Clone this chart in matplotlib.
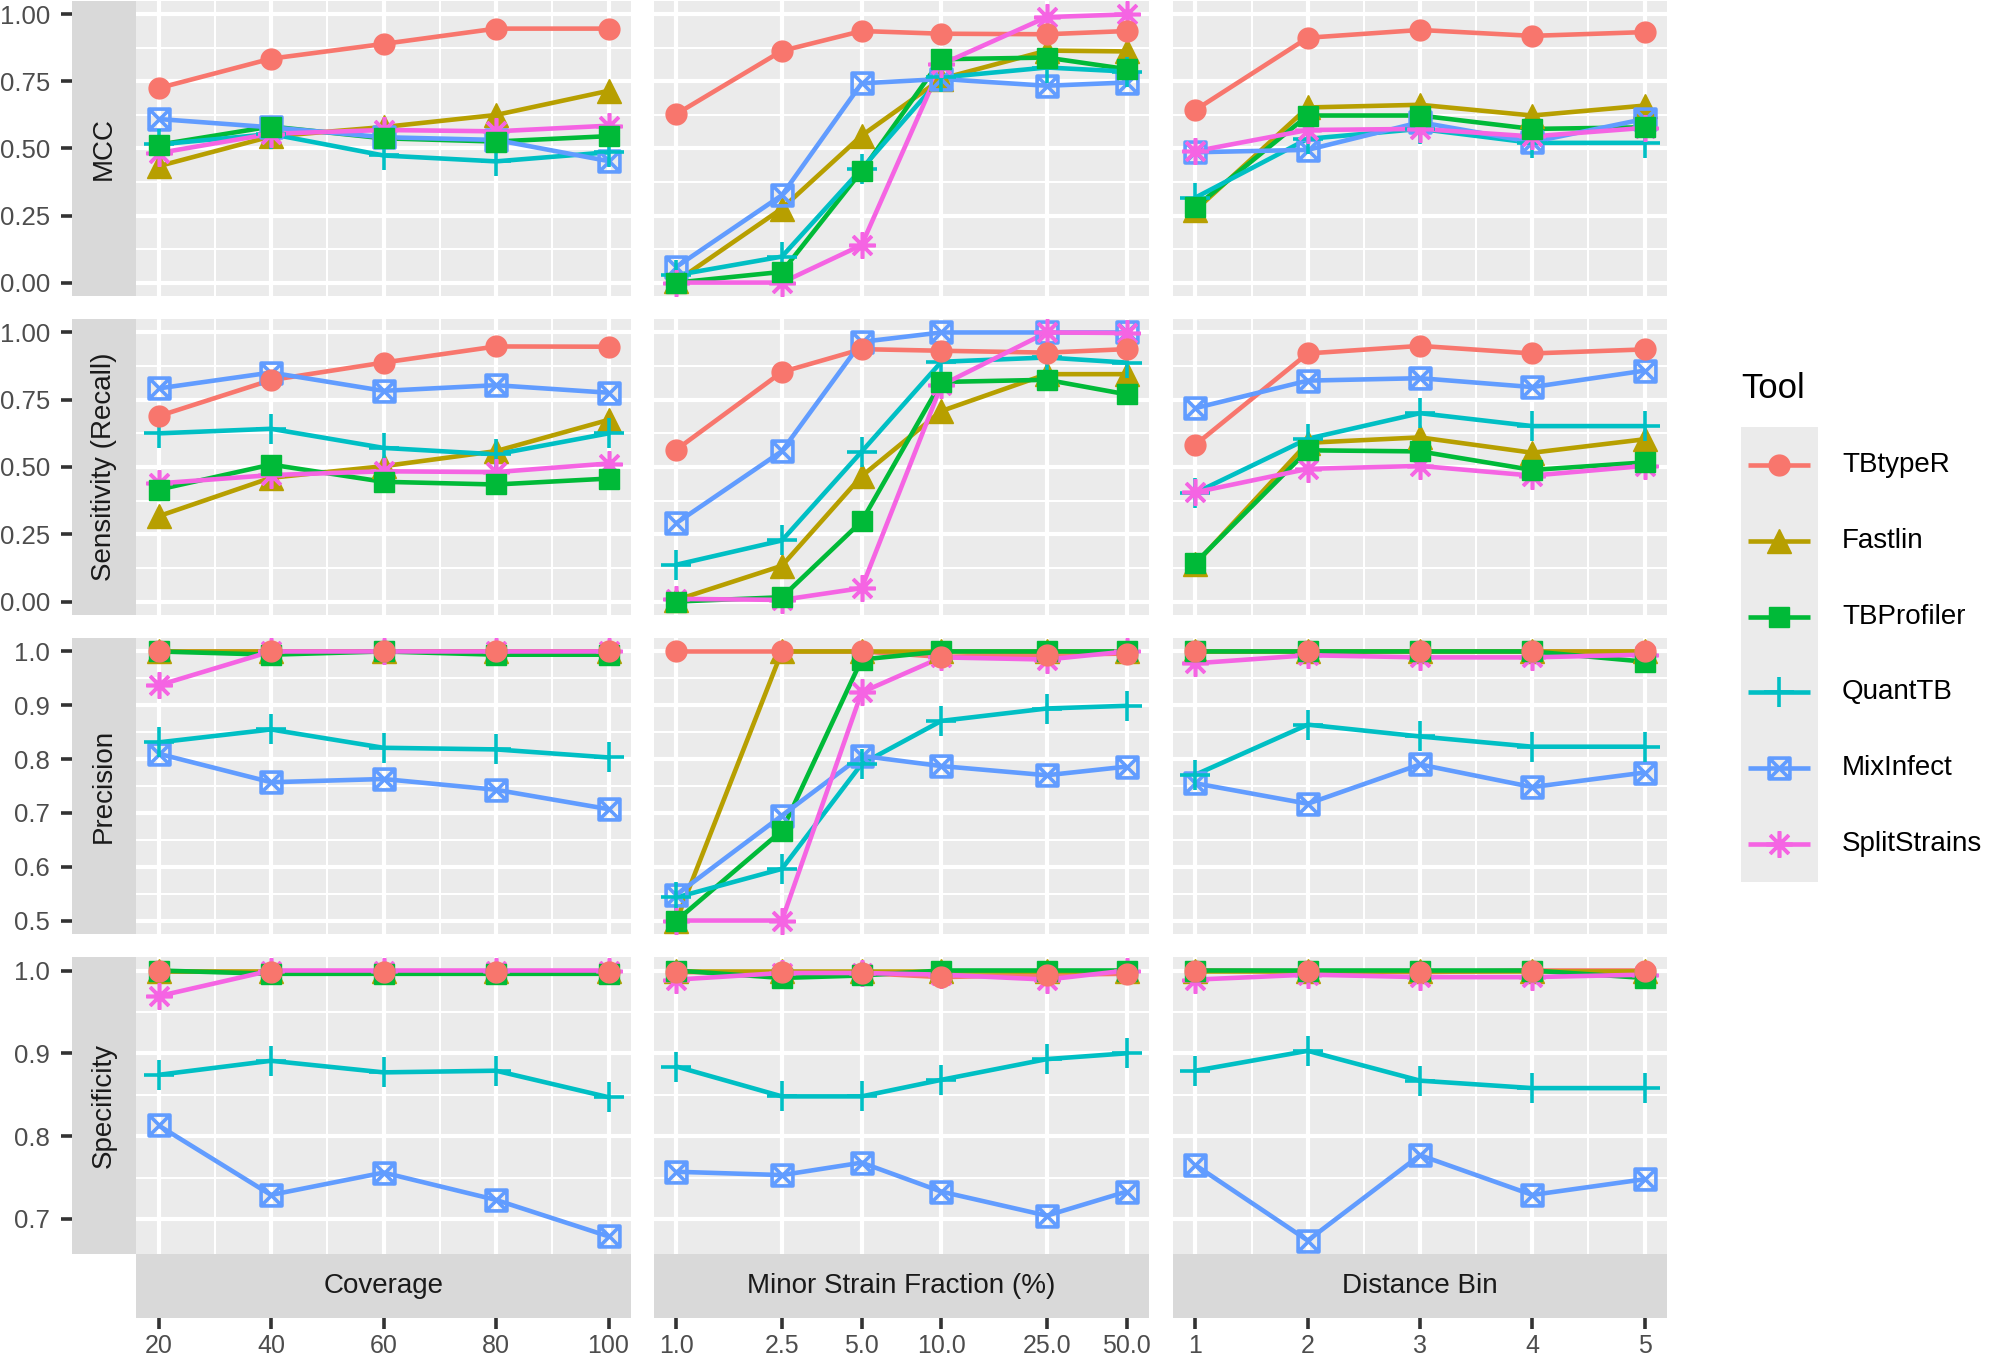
import matplotlib
matplotlib.use("Agg")
import matplotlib.pyplot as plt
from matplotlib.path import Path
from matplotlib.patches import Rectangle
from matplotlib.ticker import NullLocator

plt.rcParams['font.family'] = ['Liberation Sans', 'DejaVu Sans']

tools = ["TBtypeR", "Fastlin", "TBProfiler", "QuantTB", "MixInfect", "SplitStrains"]
colors = ["#F8766D", "#B79F00", "#00BA38", "#00BFC4", "#619CFF", "#F564E3"]

coverage = [20, 40, 60, 80, 100]
minor_fraction = [1.0, 2.5, 5.0, 10.0, 25.0, 50.0]
distance_bin = [1, 2, 3, 4, 5]

metrics = ["MCC", "Sensitivity (Recall)", "Precision", "Specificity"]
facets = ["Coverage", "Minor Strain Fraction (%)", "Distance Bin"]

# rows follow the order of `tools`
mcc_coverage = [
    [0.725, 0.835, 0.890, 0.947, 0.947],
    [0.434, 0.545, 0.580, 0.625, 0.715],
    [0.514, 0.582, 0.538, 0.526, 0.546],
    [0.515, 0.554, 0.474, 0.452, 0.486],
    [0.610, 0.579, 0.542, 0.532, 0.453],
    [0.483, 0.555, 0.569, 0.564, 0.585],
]
mcc_fraction = [
    [0.629, 0.864, 0.938, 0.928, 0.926, 0.938],
    [0.005, 0.276, 0.548, 0.760, 0.865, 0.862],
    [0.000, 0.040, 0.416, 0.833, 0.839, 0.796],
    [0.028, 0.097, 0.424, 0.765, 0.802, 0.787],
    [0.059, 0.326, 0.743, 0.759, 0.734, 0.746],
    [0.000, 0.000, 0.140, 0.814, 0.990, 1.000],
]
mcc_distance = [
    [0.644, 0.913, 0.942, 0.920, 0.934],
    [0.270, 0.653, 0.663, 0.623, 0.660],
    [0.282, 0.623, 0.623, 0.573, 0.579],
    [0.317, 0.536, 0.573, 0.521, 0.521],
    [0.486, 0.495, 0.598, 0.524, 0.610],
    [0.490, 0.569, 0.573, 0.545, 0.577],
]
sens_coverage = [
    [0.689, 0.823, 0.888, 0.948, 0.947],
    [0.317, 0.460, 0.503, 0.559, 0.675],
    [0.416, 0.509, 0.445, 0.435, 0.457],
    [0.625, 0.642, 0.571, 0.547, 0.625],
    [0.792, 0.851, 0.783, 0.804, 0.776],
    [0.439, 0.470, 0.484, 0.481, 0.513],
]
sens_fraction = [
    [0.565, 0.853, 0.938, 0.932, 0.925, 0.938],
    [0.006, 0.133, 0.466, 0.708, 0.845, 0.845],
    [0.000, 0.016, 0.298, 0.816, 0.824, 0.770],
    [0.137, 0.227, 0.557, 0.891, 0.907, 0.888],
    [0.292, 0.559, 0.965, 1.000, 1.000, 1.000],
    [0.010, 0.006, 0.050, 0.804, 1.000, 0.998],
]
sens_distance = [
    [0.583, 0.922, 0.950, 0.922, 0.937],
    [0.140, 0.590, 0.610, 0.553, 0.603],
    [0.144, 0.562, 0.558, 0.489, 0.517],
    [0.404, 0.605, 0.700, 0.652, 0.652],
    [0.719, 0.821, 0.830, 0.797, 0.858],
    [0.406, 0.493, 0.504, 0.468, 0.504],
]
prec_coverage = [
    [1.000, 1.000, 1.000, 1.000, 1.000],
    [1.000, 1.000, 1.000, 1.000, 1.000],
    [1.000, 0.994, 1.000, 0.994, 0.994],
    [0.831, 0.855, 0.821, 0.818, 0.803],
    [0.810, 0.757, 0.763, 0.743, 0.707],
    [0.937, 1.000, 1.000, 1.000, 1.000],
]
prec_fraction = [
    [1.000, 1.000, 1.000, 0.990, 0.994, 0.996],
    [0.500, 1.000, 1.000, 1.000, 1.000, 1.000],
    [0.500, 0.667, 0.985, 1.000, 1.000, 1.000],
    [0.543, 0.596, 0.791, 0.871, 0.894, 0.899],
    [0.548, 0.695, 0.806, 0.787, 0.770, 0.786],
    [0.500, 0.500, 0.924, 0.989, 0.985, 1.000],
]
prec_distance = [
    [1.000, 1.000, 1.000, 1.000, 1.000],
    [1.000, 1.000, 1.000, 1.000, 1.000],
    [1.000, 1.000, 1.000, 1.000, 0.981],
    [0.771, 0.864, 0.842, 0.823, 0.823],
    [0.755, 0.717, 0.790, 0.748, 0.775],
    [0.978, 0.993, 0.989, 0.989, 0.994],
]
spec_coverage = [
    [0.999, 0.998, 0.998, 0.998, 0.998],
    [1.000, 1.000, 1.000, 1.000, 1.000],
    [1.000, 0.996, 0.996, 0.996, 0.996],
    [0.874, 0.891, 0.877, 0.879, 0.847],
    [0.813, 0.729, 0.756, 0.723, 0.679],
    [0.969, 1.000, 1.000, 1.000, 1.000],
]
spec_fraction = [
    [0.998, 0.998, 0.997, 0.992, 0.995, 0.996],
    [1.000, 1.000, 1.000, 1.000, 1.000, 1.000],
    [1.000, 0.991, 0.994, 1.000, 1.000, 1.000],
    [0.884, 0.848, 0.848, 0.868, 0.893, 0.900],
    [0.757, 0.753, 0.768, 0.733, 0.704, 0.733],
    [0.989, 0.997, 0.997, 0.995, 0.989, 1.000],
]
spec_distance = [
    [1.000, 0.999, 0.998, 1.000, 1.000],
    [1.000, 1.000, 1.000, 1.000, 1.000],
    [1.000, 1.000, 1.000, 1.000, 0.991],
    [0.879, 0.903, 0.867, 0.858, 0.858],
    [0.765, 0.674, 0.777, 0.729, 0.748],
    [0.989, 0.995, 0.992, 0.992, 0.995],
]

y_breaks = [
    [0.0, 0.25, 0.5, 0.75, 1.0],
    [0.0, 0.25, 0.5, 0.75, 1.0],
    [0.5, 0.6, 0.7, 0.8, 0.9, 1.0],
    [0.7, 0.8, 0.9, 1.0],
]
y_labels = [
    ["0.00", "0.25", "0.50", "0.75", "1.00"],
    ["0.00", "0.25", "0.50", "0.75", "1.00"],
    ["0.5", "0.6", "0.7", "0.8", "0.9", "1.0"],
    ["0.7", "0.8", "0.9", "1.0"],
]
x_labels = [
    ["20", "40", "60", "80", "100"],
    ["1.0", "2.5", "5.0", "10.0", "25.0", "50.0"],
    ["1", "2", "3", "4", "5"],
]

table = [
    [mcc_coverage, mcc_fraction, mcc_distance],
    [sens_coverage, sens_fraction, sens_distance],
    [prec_coverage, prec_fraction, prec_distance],
    [spec_coverage, spec_fraction, spec_distance],
]
x_values = [coverage, minor_fraction, distance_bin]

# MixInfect marker: square with a cross inside
box_x = Path(
    [(-1, -1), (1, -1), (1, 1), (-1, 1), (-1, -1), (-1, -1), (1, 1), (-1, 1), (1, -1)],
    [Path.MOVETO, Path.LINETO, Path.LINETO, Path.LINETO, Path.CLOSEPOLY,
     Path.MOVETO, Path.LINETO, Path.MOVETO, Path.LINETO],
)
marker_style = [
    dict(marker='o', ms=15),
    dict(marker='^', ms=17),
    dict(marker='s', ms=14),
    dict(marker='+', ms=21, mew=2.6),
    dict(marker=box_x, ms=15, mew=2.6, mfc='none'),
    dict(marker=(8, 2, 0), ms=19, mew=2.6),
]
LW = 3.3
# points are drawn in alphabetical order of tool (as in the data)
point_rank = {t: i for i, t in enumerate(sorted(tools, key=str.lower))}

W, H = 1999, 1359
COL_X = [(136, 631), (654, 1149), (1173, 1667)]
ROW_Y = [(1, 296), (319, 615), (638, 934), (957, 1254)]
STRIP_L = (72, 136)
STRIP_B = (1254, 1318)

BG = "#EBEBEB"
STRIP_BG = "#D9D9D9"
TICK_C = "#333333"
LABEL_C = "#4D4D4D"


def box(x0, y0, x1, y1):
    return [x0 / W, 1 - y1 / H, (x1 - x0) / W, (y1 - y0) / H]


def padded(lo, hi):
    d = (hi - lo) * 0.05
    return lo - d, hi + d


fig = plt.figure(figsize=(W / 100, H / 100), dpi=100)

# limits per row / column, like free scales with 5% expansion
ylims = []
for r in range(4):
    vals = [v for c in range(3) for row in table[r][c] for v in row]
    ylims.append(padded(min(vals), max(vals)))
xlims = [padded(20, 100), None, padded(1, 5)]
lo, hi = padded(0.0, 1.69897)
xlims[1] = (10 ** lo, 10 ** hi)

x_minor = [[30, 50, 70, 90], [], [1.5, 2.5, 3.5, 4.5]]


def y_minor(r):
    b = y_breaks[r]
    step = b[1] - b[0]
    m = [b[0] - step / 2] + [v + step / 2 for v in b]
    return [v for v in m if ylims[r][0] <= v <= ylims[r][1]]


for r in range(4):
    for c in range(3):
        ax = fig.add_axes(box(COL_X[c][0], ROW_Y[r][0], COL_X[c][1], ROW_Y[r][1]))
        ax.set_facecolor(BG)
        for s in ax.spines.values():
            s.set_visible(False)
        if c == 1:
            ax.set_xscale('log')
        ax.set_xlim(*xlims[c])
        ax.set_ylim(*ylims[r])
        ax.set_xticks(x_values[c])
        ax.set_yticks(y_breaks[r])
        ax.xaxis.set_minor_locator(NullLocator())
        ax.set_xticks(x_minor[c], minor=True)
        ax.set_yticks(y_minor(r), minor=True)
        ax.tick_params(which='both', length=0, labelbottom=False, labelleft=False)
        ax.grid(which='major', color='white', lw=3.0)
        ax.grid(which='minor', color='white', lw=1.5)
        ax.set_axisbelow(True)
        data = table[r][c]
        for i, t in enumerate(tools):
            ax.plot(x_values[c], data[i], color=colors[i], lw=LW,
                    zorder=3 + i * 0.01, solid_capstyle='butt')
        for i, t in enumerate(tools):
            st = dict(marker_style[i])
            st.setdefault('mfc', colors[i])
            ax.plot(x_values[c], data[i], ls='none', color=colors[i], mec=colors[i],
                    zorder=4 + point_rank[t] * 0.01, **st)

# left strips with y axis
for r in range(4):
    sa = fig.add_axes(box(STRIP_L[0], ROW_Y[r][0], STRIP_L[1], ROW_Y[r][1]))
    sa.set_facecolor(STRIP_BG)
    for s in sa.spines.values():
        s.set_visible(False)
    sa.set_ylim(*ylims[r])
    sa.set_yticks(y_breaks[r])
    sa.set_yticklabels(y_labels[r])
    sa.set_xticks([])
    sa.tick_params(axis='y', length=8, width=2.6, color=TICK_C, labelcolor=LABEL_C,
                   labelsize=18.5, pad=8)
    sa.text(0.5, 0.5, metrics[r], transform=sa.transAxes, rotation=90,
            ha='center', va='center', fontsize=20, color='#1A1A1A')

# bottom strips with x axis
for c in range(3):
    sa = fig.add_axes(box(COL_X[c][0], STRIP_B[0], COL_X[c][1], STRIP_B[1]))
    sa.set_facecolor(STRIP_BG)
    for s in sa.spines.values():
        s.set_visible(False)
    if c == 1:
        sa.set_xscale('log')
    sa.set_xlim(*xlims[c])
    sa.xaxis.set_minor_locator(NullLocator())
    sa.set_xticks(x_values[c])
    sa.set_xticklabels(x_labels[c])
    sa.set_yticks([])
    sa.tick_params(axis='x', which='both', length=8, width=2.6, color=TICK_C,
                   labelcolor=LABEL_C, labelsize=18, pad=3.5)
    sa.tick_params(axis='x', which='minor', length=0)
    sa.text(0.5, 0.5, facets[c], transform=sa.transAxes, ha='center', va='center',
            fontsize=20, color='#1A1A1A')

# legend
lg = fig.add_axes(box(1730, 360, 1999, 900))
lg.set_xlim(1730, 1999)
lg.set_ylim(900, 360)
lg.axis('off')
key_x0, key_x1, key_top, key_h = 1741, 1818, 427, 75.8
lg.add_patch(Rectangle((key_x0, key_top), key_x1 - key_x0, key_h * len(tools),
                       facecolor=BG, edgecolor='none'))
lg.text(key_x0, 388, "Tool", fontsize=25, ha='left', va='center', color='black')
for i, t in enumerate(tools):
    yc = key_top + key_h * (i + 0.5)
    lg.plot([key_x0 + 7, key_x1 - 8], [yc, yc], color=colors[i], lw=LW,
            solid_capstyle='butt')
    st = dict(marker_style[i])
    st.setdefault('mfc', colors[i])
    lg.plot([(key_x0 + key_x1) / 2], [yc], ls='none', color=colors[i], mec=colors[i], **st)
    lg.text(1842, yc, t, fontsize=20, ha='left', va='center', color='black')

fig.savefig("out.png", dpi=100)
